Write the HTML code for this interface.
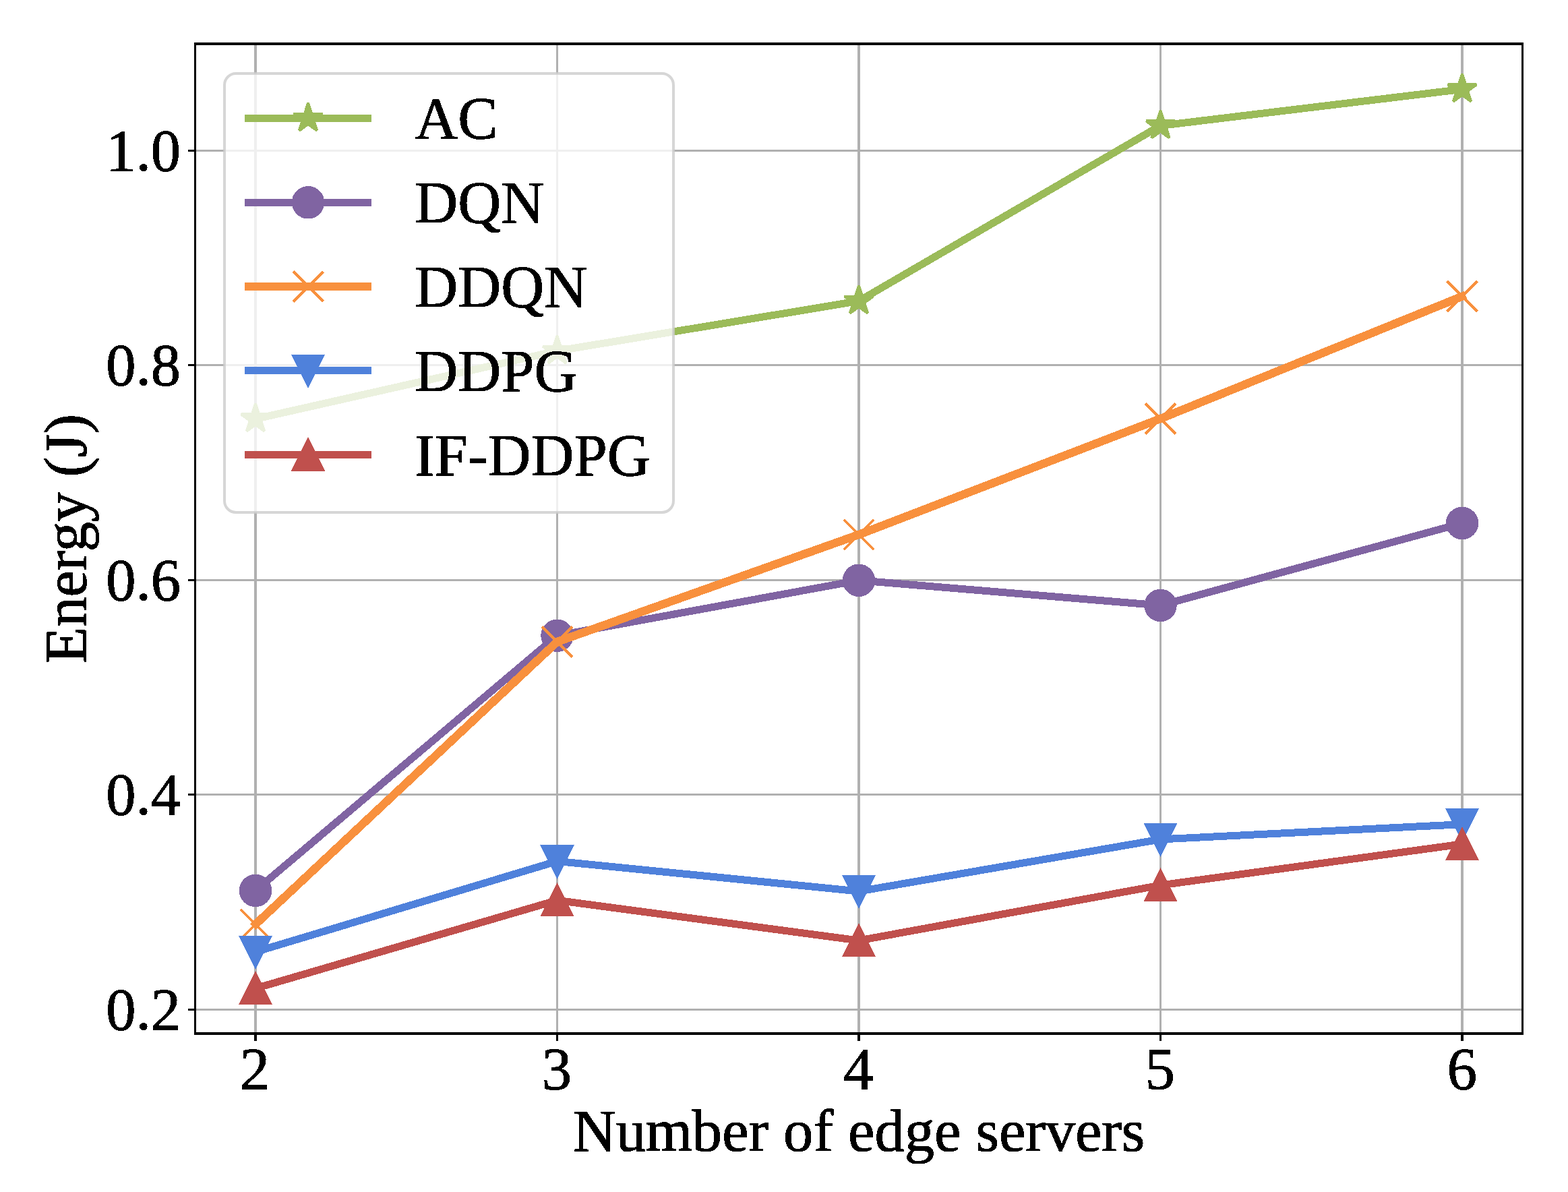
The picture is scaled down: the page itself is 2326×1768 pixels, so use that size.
<!DOCTYPE html>
<html lang="en"><head><meta charset="utf-8"><title>Energy vs. number of edge servers</title>
<style>html,body{margin:0;padding:0;background:#fff;}body{width:2326px;height:1768px;overflow:hidden;}svg{display:block;}text{font-family:"Liberation Serif","Times New Roman",Times,serif;font-size:88.6px;fill:#000;stroke:#000;stroke-width:1.1px;}</style>
</head><body>
<svg width="2326" height="1768" viewBox="0 0 2326 1768">
<rect x="0" y="0" width="2326" height="1768" fill="#fff"/>
<defs><clipPath id="ax"><rect x="289.5" y="65" width="1969" height="1468"/></clipPath>
<filter id="hard" x="-5%" y="-20%" width="110%" height="140%" color-interpolation-filters="sRGB"><feComponentTransfer><feFuncA type="discrete" tableValues="0 1"/></feComponentTransfer></filter></defs>
<g fill="#b0b0b0" shape-rendering="crispEdges">
<rect x="377" y="67" width="4" height="1464"/>
<rect x="825" y="67" width="3" height="1464"/>
<rect x="1272" y="67" width="4" height="1464"/>
<rect x="1720" y="67" width="3" height="1464"/>
<rect x="2167" y="67" width="4" height="1464"/>
<rect x="291" y="1496" width="1966" height="3"/>
<rect x="291" y="1177" width="1966" height="3"/>
<rect x="291" y="859" width="1966" height="3"/>
<rect x="291" y="540" width="1966" height="3"/>
<rect x="291" y="222" width="1966" height="3"/>
</g>
<g clip-path="url(#ax)" shape-rendering="crispEdges">
<polyline points="379,621.4 826.5,520.5 1274,446.5 1721.5,186.4 2169,132.4" fill="none" stroke="#9bbb59" stroke-width="11" stroke-linejoin="round" stroke-linecap="square"/>
<polygon points="379,599 373.97,614.48 357.7,614.48 370.86,624.04 365.83,639.52 379,629.96 392.17,639.52 387.14,624.04 400.3,614.48 384.03,614.48" fill="#9bbb59" stroke="#9bbb59" stroke-width="4.1" stroke-linejoin="bevel"/>
<polygon points="826.5,498.1 821.47,513.58 805.2,513.58 818.36,523.14 813.33,538.62 826.5,529.06 839.67,538.62 834.64,523.14 847.8,513.58 831.53,513.58" fill="#9bbb59" stroke="#9bbb59" stroke-width="4.1" stroke-linejoin="bevel"/>
<polygon points="1274,424.1 1268.97,439.58 1252.7,439.58 1265.86,449.14 1260.83,464.62 1274,455.06 1287.17,464.62 1282.14,449.14 1295.3,439.58 1279.03,439.58" fill="#9bbb59" stroke="#9bbb59" stroke-width="4.1" stroke-linejoin="bevel"/>
<polygon points="1721.5,164 1716.47,179.48 1700.2,179.48 1713.36,189.04 1708.33,204.52 1721.5,194.96 1734.67,204.52 1729.64,189.04 1742.8,179.48 1726.53,179.48" fill="#9bbb59" stroke="#9bbb59" stroke-width="4.1" stroke-linejoin="bevel"/>
<polygon points="2169,110 2163.97,125.48 2147.7,125.48 2160.86,135.04 2155.83,150.52 2169,140.96 2182.17,150.52 2177.14,135.04 2190.3,125.48 2174.03,125.48" fill="#9bbb59" stroke="#9bbb59" stroke-width="4.1" stroke-linejoin="bevel"/>
</g>
<g clip-path="url(#ax)" shape-rendering="crispEdges">
<polyline points="379,1320.9 826.5,942.8 1274,860.8 1721.5,898 2169,776" fill="none" stroke="#8064a2" stroke-width="11" stroke-linejoin="round" stroke-linecap="square"/>
<circle cx="379" cy="1320.9" r="22.15" fill="#8064a2" stroke="#8064a2" stroke-width="4.1"/>
<circle cx="826.5" cy="942.8" r="22.15" fill="#8064a2" stroke="#8064a2" stroke-width="4.1"/>
<circle cx="1274" cy="860.8" r="22.15" fill="#8064a2" stroke="#8064a2" stroke-width="4.1"/>
<circle cx="1721.5" cy="898" r="22.15" fill="#8064a2" stroke="#8064a2" stroke-width="4.1"/>
<circle cx="2169" cy="776" r="22.15" fill="#8064a2" stroke="#8064a2" stroke-width="4.1"/>
</g>
<g clip-path="url(#ax)" shape-rendering="crispEdges">
<polyline points="374.99,1374.76 379,1371 826.5,952 1274,793 1721.5,621 2169,439.6 2174.1,437.53" fill="none" stroke="#f8903d" stroke-width="12.3" stroke-linejoin="round" stroke-linecap="butt"/>
<path d="M356.7 1348.7L401.3 1393.3M356.7 1393.3L401.3 1348.7" fill="none" stroke="#f8903d" stroke-width="4.2" stroke-linecap="butt"/>
<path d="M804.2 929.7L848.8 974.3M804.2 974.3L848.8 929.7" fill="none" stroke="#f8903d" stroke-width="4.2" stroke-linecap="butt"/>
<path d="M1251.7 770.7L1296.3 815.3M1251.7 815.3L1296.3 770.7" fill="none" stroke="#f8903d" stroke-width="4.2" stroke-linecap="butt"/>
<path d="M1699.2 598.7L1743.8 643.3M1699.2 643.3L1743.8 598.7" fill="none" stroke="#f8903d" stroke-width="4.2" stroke-linecap="butt"/>
<path d="M2146.7 417.3L2191.3 461.9M2146.7 461.9L2191.3 417.3" fill="none" stroke="#f8903d" stroke-width="4.2" stroke-linecap="butt"/>
</g>
<g clip-path="url(#ax)" shape-rendering="crispEdges">
<polyline points="379,1411.9 826.5,1277.4 1274,1322 1721.5,1244.9 2169,1222.65" fill="none" stroke="#4f81db" stroke-width="11" stroke-linejoin="round" stroke-linecap="square"/>
<polygon points="379,1434.05 356.85,1389.75 401.15,1389.75" fill="#4f81db" stroke="#4f81db" stroke-width="3.7" stroke-linejoin="miter" stroke-miterlimit="10"/>
<polygon points="826.5,1299.55 804.35,1255.25 848.65,1255.25" fill="#4f81db" stroke="#4f81db" stroke-width="3.7" stroke-linejoin="miter" stroke-miterlimit="10"/>
<polygon points="1274,1344.15 1251.85,1299.85 1296.15,1299.85" fill="#4f81db" stroke="#4f81db" stroke-width="3.7" stroke-linejoin="miter" stroke-miterlimit="10"/>
<polygon points="1721.5,1267.05 1699.35,1222.75 1743.65,1222.75" fill="#4f81db" stroke="#4f81db" stroke-width="3.7" stroke-linejoin="miter" stroke-miterlimit="10"/>
<polygon points="2169,1244.8 2146.85,1200.5 2191.15,1200.5" fill="#4f81db" stroke="#4f81db" stroke-width="3.7" stroke-linejoin="miter" stroke-miterlimit="10"/>
</g>
<g clip-path="url(#ax)" shape-rendering="crispEdges">
<polyline points="379,1466 826.5,1335.35 1274,1395 1721.5,1313 2169,1251.9" fill="none" stroke="#c0504d" stroke-width="11" stroke-linejoin="round" stroke-linecap="square"/>
<polygon points="379,1443.85 356.85,1488.15 401.15,1488.15" fill="#c0504d" stroke="#c0504d" stroke-width="3.7" stroke-linejoin="miter" stroke-miterlimit="10"/>
<polygon points="826.5,1313.2 804.35,1357.5 848.65,1357.5" fill="#c0504d" stroke="#c0504d" stroke-width="3.7" stroke-linejoin="miter" stroke-miterlimit="10"/>
<polygon points="1274,1372.85 1251.85,1417.15 1296.15,1417.15" fill="#c0504d" stroke="#c0504d" stroke-width="3.7" stroke-linejoin="miter" stroke-miterlimit="10"/>
<polygon points="1721.5,1290.85 1699.35,1335.15 1743.65,1335.15" fill="#c0504d" stroke="#c0504d" stroke-width="3.7" stroke-linejoin="miter" stroke-miterlimit="10"/>
<polygon points="2169,1229.75 2146.85,1274.05 2191.15,1274.05" fill="#c0504d" stroke="#c0504d" stroke-width="3.7" stroke-linejoin="miter" stroke-miterlimit="10"/>
</g>
<g fill="#000" shape-rendering="crispEdges">
<rect x="377" y="1531" width="4" height="13"/>
<rect x="825" y="1531" width="3" height="13"/>
<rect x="1272" y="1531" width="4" height="13"/>
<rect x="1720" y="1531" width="3" height="13"/>
<rect x="2167" y="1531" width="4" height="13"/>
<rect x="279" y="1496" width="10" height="3"/>
<rect x="279" y="1177" width="10" height="3"/>
<rect x="279" y="859" width="10" height="3"/>
<rect x="279" y="540" width="10" height="3"/>
<rect x="279" y="222" width="10" height="3"/>
<rect x="288" y="63" width="1972" height="4"/>
<rect x="288" y="1531" width="1972" height="4"/>
<rect x="288" y="63" width="3" height="1472"/>
<rect x="2257" y="63" width="3" height="1472"/>
</g>
<text transform="translate(378 1614.6) scale(1 1.005)" text-anchor="middle" filter="url(#hard)">2</text>
<text transform="translate(826 1614.6) scale(1 1.005)" text-anchor="middle" filter="url(#hard)">3</text>
<text transform="translate(1273.5 1614.6) scale(1 1.005)" text-anchor="middle" filter="url(#hard)">4</text>
<text transform="translate(1721 1614.6) scale(1 1.005)" text-anchor="middle" filter="url(#hard)">5</text>
<text transform="translate(2169 1614.6) scale(1 1.005)" text-anchor="middle" filter="url(#hard)">6</text>
<text transform="translate(268.1 1526.5) scale(1 1.005)" text-anchor="end" filter="url(#hard)">0.2</text>
<text transform="translate(268.1 1207.7) scale(1 1.005)" text-anchor="end" filter="url(#hard)">0.4</text>
<text transform="translate(268.1 889.5) scale(1 1.005)" text-anchor="end" filter="url(#hard)">0.6</text>
<text transform="translate(268.1 570.7) scale(1 1.005)" text-anchor="end" filter="url(#hard)">0.8</text>
<text transform="translate(268.1 253.1) scale(1 1.005)" text-anchor="end" filter="url(#hard)">1.0</text>
<text transform="translate(1274 1706.9)" text-anchor="middle" filter="url(#hard)">Number of edge servers</text>
<text transform="translate(127.5 799) rotate(-90)" text-anchor="middle" filter="url(#hard)">Energy (J)</text>
<rect x="333" y="109" width="666" height="651" rx="17" ry="17" fill="#fff" fill-opacity="0.8" stroke="#ccc" stroke-opacity="0.8" stroke-width="4"/>
<g shape-rendering="crispEdges">
<line x1="362.9" y1="175.5" x2="551.2" y2="175.5" stroke="#9bbb59" stroke-width="11" stroke-linecap="butt"/>
<polygon points="457.05,153.1 452.02,168.58 435.75,168.58 448.91,178.14 443.88,193.62 457.05,184.06 470.22,193.62 465.19,178.14 478.35,168.58 462.08,168.58" fill="#9bbb59" stroke="#9bbb59" stroke-width="4.1" stroke-linejoin="bevel"/>
</g>
<text transform="translate(615.2 205.1) scale(1 1.012)" text-anchor="start" filter="url(#hard)">AC</text>
<g shape-rendering="crispEdges">
<line x1="362.9" y1="300.3" x2="551.2" y2="300.3" stroke="#8064a2" stroke-width="11" stroke-linecap="butt"/>
<circle cx="457.05" cy="300.3" r="22.15" fill="#8064a2" stroke="#8064a2" stroke-width="4.1"/>
</g>
<text transform="translate(615.2 330.18) scale(1 1.012)" text-anchor="start" filter="url(#hard)">DQN</text>
<g shape-rendering="crispEdges">
<line x1="362.9" y1="425" x2="551.2" y2="425" stroke="#f8903d" stroke-width="12.3" stroke-linecap="butt"/>
<path d="M434.75 402.7L479.35 447.3M434.75 447.3L479.35 402.7" fill="none" stroke="#f8903d" stroke-width="4.2" stroke-linecap="butt"/>
</g>
<text transform="translate(615.2 455.26) scale(1 1.012)" text-anchor="start" filter="url(#hard)">DDQN</text>
<g shape-rendering="crispEdges">
<line x1="362.9" y1="549.8" x2="551.2" y2="549.8" stroke="#4f81db" stroke-width="11" stroke-linecap="butt"/>
<polygon points="457.05,571.95 434.9,527.65 479.2,527.65" fill="#4f81db" stroke="#4f81db" stroke-width="3.7" stroke-linejoin="miter" stroke-miterlimit="10"/>
</g>
<text transform="translate(615.2 580.34) scale(1 1.012)" text-anchor="start" filter="url(#hard)">DDPG</text>
<g shape-rendering="crispEdges">
<line x1="362.9" y1="674.6" x2="551.2" y2="674.6" stroke="#c0504d" stroke-width="11" stroke-linecap="butt"/>
<polygon points="457.05,652.45 434.9,696.75 479.2,696.75" fill="#c0504d" stroke="#c0504d" stroke-width="3.7" stroke-linejoin="miter" stroke-miterlimit="10"/>
</g>
<text transform="translate(615.2 705.42) scale(1 1.012)" text-anchor="start" filter="url(#hard)">IF-DDPG</text>
</svg>
</body></html>
